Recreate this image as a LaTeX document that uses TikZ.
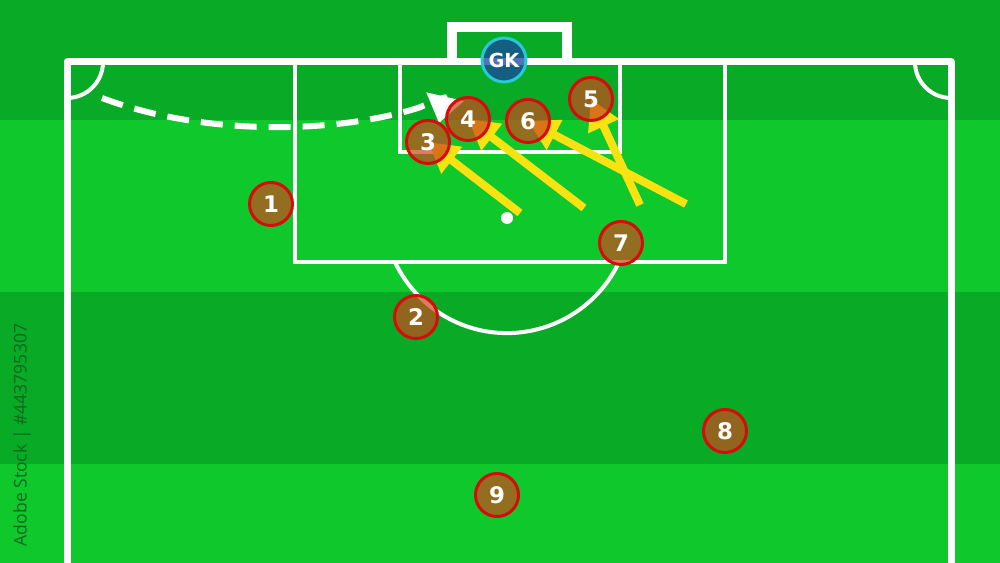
\documentclass[tikz,border=0pt]{standalone}
\usepackage{fontspec}
\setsansfont{DejaVu Sans}
\newfontfamily\stampfont{Open Sans}
\usetikzlibrary{arrows.meta,backgrounds}

\definecolor{turfdark}{RGB}{8,170,38}
\definecolor{turflight}{RGB}{14,200,44}
\definecolor{shirt}{RGB}{205,72,28}
\definecolor{rim}{RGB}{214,12,12}
\definecolor{keeperblue}{RGB}{25,70,160}
\definecolor{keeperrim}{RGB}{40,200,215}
\definecolor{runline}{RGB}{248,226,18}
\definecolor{stampgreen}{RGB}{10,104,30}

\tikzset{
  pline/.style={white, line width=0.08cm},
  player/.style={circle, minimum size=0.86cm, inner sep=0pt, fill=shirt, fill opacity=0.7, text opacity=1, draw=rim, line width=0.06cm, text=white, font=\sffamily\bfseries\fontsize{13}{13}\selectfont},
  keeper/.style={player, fill=keeperblue, fill opacity=0.75, draw=keeperrim, minimum size=0.88cm, font=\sffamily\bfseries\fontsize{11}{11}\selectfont},
  run/.style={runline, line width=0.16cm, -{Triangle[width=0.64cm, length=0.6cm]}},
  cross/.style={white, line width=0.12cm, dash pattern=on 0.44cm off 0.24cm, -{Triangle[width=0.74cm, length=0.54cm]}},
  stamp/.style={text=stampgreen, font=\stampfont\fontsize{10}{10}\selectfont}
}

\begin{document}
\begin{tikzpicture}[x=0.02cm, y=-0.02cm]
\useasboundingbox (0,0) rectangle (1000,563);
\node[keeper] (gk) at (504,60) {GK};
\node[player] (p1) at (271,204) {1};
\node[player] (p2) at (416,317) {2};
\node[player] (p3) at (428,142) {3};
\node[player] (p4) at (468,119) {4};
\node[player] (p5) at (591,99) {5};
\node[player] (p6) at (528,121) {6};
\node[player] (p7) at (621,243) {7};
\node[player] (p8) at (725,431) {8};
\node[player] (p9) at (497,495) {9};
\coordinate (corner) at (102,98);
\coordinate (ball) at (439,123);
\coordinate (t3) at (520,213);
\coordinate (t4) at (584,208);
\coordinate (t5) at (640,205);
\coordinate (t6) at (686,204);
\node[stamp, rotate=90] (tag) at (22,435) {Adobe Stock | \#443795307};
\begin{scope}[on background layer]
\fill[turfdark] (0,0) rectangle (1000,120);
\fill[turflight] (0,120) rectangle (1000,292);
\fill[turfdark] (0,292) rectangle (1000,464);
\fill[turflight] (0,464) rectangle (1000,563);
\draw[white, line width=0.14cm, line join=round] (67,566) -- (67,62) -- (951,62) -- (951,566);
\draw[white, line width=0.2cm] (452,62) -- (452,27) -- (567,27) -- (567,62);
\draw[pline] (295,62) -- (295,262) -- (725,262) -- (725,62);
\draw[pline] (400,62) -- (400,152) -- (620,152) -- (620,62);
\draw[pline] (619,262) arc[start angle=25.2, end angle=154.8, radius=123.8];
\draw[pline] (103,62) arc[start angle=0, end angle=90, radius=36];
\draw[pline] (915,62) arc[start angle=180, end angle=90, radius=36];
\fill[white] (507,218) circle[radius=6];
\draw[cross] (corner) .. controls (200,135) and (330,135) .. (418,108) .. controls (445,97) .. (ball);
\draw[run] (t3) -- (p3.center);
\draw[run] (t4) -- (p4.center);
\draw[run] (t5) -- (p5.center);
\draw[run] (t6) -- (p6.center);
\end{scope}
\end{tikzpicture}
\end{document}
